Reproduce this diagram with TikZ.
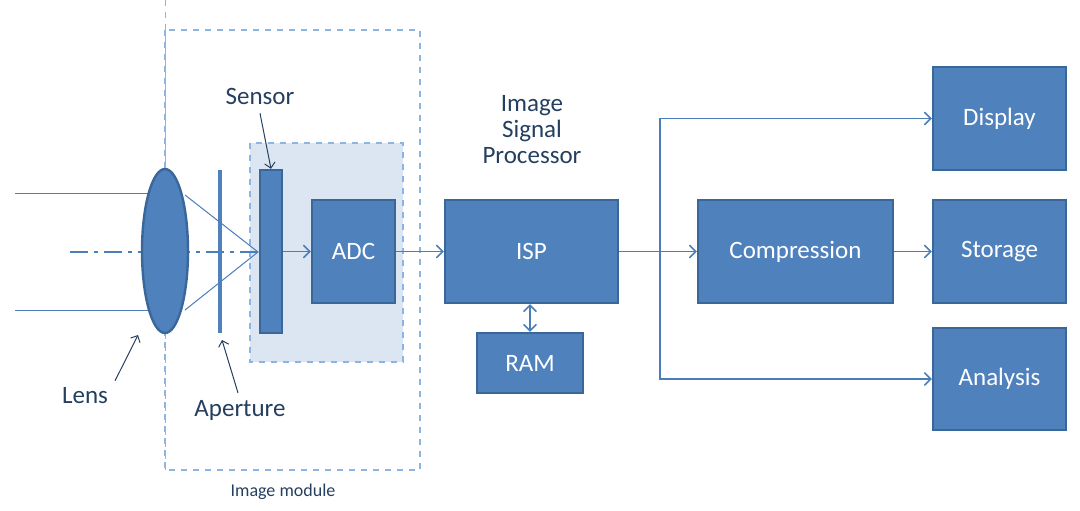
\documentclass[tikz,border=0pt]{standalone}
\usepackage{fontspec}
\setmainfont{Carlito}
\usetikzlibrary{arrows,shapes.geometric}
\definecolor{boxblue}{HTML}{4F81BD}
\definecolor{edgeblue}{HTML}{3A679A}
\definecolor{lineblue}{HTML}{4A7EBB}
\definecolor{paleblue}{HTML}{DCE6F2}
\definecolor{dashblue}{HTML}{8EB4E3}
\definecolor{txt}{HTML}{243F60}

\begin{document}
\begin{tikzpicture}[x=0.5pt,y=-0.5pt,>=angle 90,font=\fontsize{12.5}{14}\selectfont]
	\tikzstyle{bloc}=[draw=edgeblue,line width=1.2pt,fill=boxblue,text=white,inner sep=0pt,anchor=center]
	\tikzstyle{fil}=[draw=lineblue,line width=0.8pt]
	\tikzstyle{etiq}=[text=txt,anchor=center]
	\useasboundingbox (0,0) rectangle (1080,510);
	% boite du module
	\draw[dashblue,dashed,line width=0.7pt] (165,30) rectangle (420,470);
	\node[etiq,font=\fontsize{9}{10}\selectfont] (mod) at (283,492) {Image module};
	\draw[dashblue,dashed,line width=0.7pt,fill=paleblue] (250,143) rectangle (403,362);
	% optique
	\draw[lineblue,line width=0.5pt] (15,193) -- (150,193);
	\draw[lineblue,line width=0.5pt] (15,310) -- (150,310);
	\draw[lineblue,line width=0.5pt] (185,195) -- (258,252) -- (185,310);
	\draw[lineblue,line width=0.8pt,dash pattern=on 9pt off 3pt on 2pt off 3pt] (70,252) -- (258,252);
	\draw[dashblue,dashed,line width=0.5pt] (165,0) -- (165,170);
	\draw[dashblue,dashed,line width=0.5pt] (165,333) -- (165,470);
	\node[bloc,ellipse,minimum width=23pt,minimum height=82pt] (lens) at (165,251) {};
	\draw[boxblue,line width=1.8pt] (220,170) -- (220,333);
	\coordinate (ape) at (222,340);
	\node[bloc,minimum width=11pt,minimum height=81.5pt] (sensor) at (271,251.5) {};
	% blocs
	\node[bloc,minimum width=41.5pt,minimum height=51.5pt] (adc) at (353.5,251.5) {ADC};
	\node[bloc,minimum width=86.5pt,minimum height=51.5pt] (isp) at (531.5,251.5) {ISP};
	\node[bloc,minimum width=53pt,minimum height=30pt] (ram) at (530,363) {RAM};
	\node[bloc,minimum width=97.5pt,minimum height=51.5pt] (comp) at (795.5,251.5) {Compression};
	\node[bloc,minimum width=66.5pt,minimum height=51.5pt] (disp) at (999.5,118.5) {Display};
	\node[bloc,minimum width=66.5pt,minimum height=51.5pt] (stor) at (999.5,251.5) {Storage};
	\node[bloc,minimum width=66.5pt,minimum height=51pt] (anal) at (999.5,379) {Analysis};
	% fleches
	\draw[fil,->] (sensor) -- (adc);
	\draw[fil,->] (adc) -- (isp);
	\draw[fil,<->] (isp.south -| ram.north) -- (ram.north);
	\coordinate (br) at (660,251.5);
	\draw[fil] (isp) -- (br);
	\draw[fil,->] (br) -- (comp);
	\draw[fil,->] (br) |- (disp.west);
	\draw[fil,->] (br) |- (anal.west);
	\draw[fil,->] (comp) -- (stor);
	% etiquettes
	\node[etiq] (lsensor) at (260,96) {Sensor};
	\node[etiq] (llens) at (85,396) {Lens};
	\node[etiq] (lape) at (240,410) {Aperture};
	\node[etiq,align=center] (lisp) at (532,130) {Image\\[-1pt]Signal\\[-1pt]Processor};
	\draw[txt,line width=0.5pt,->] (lsensor.south) ++(0,2) -- (sensor.north);
	\draw[txt,line width=0.5pt,->] (llens.north east) -- (138,335);
	\draw[txt,line width=0.5pt,->] (lape.north) ++(-2,0) -- (ape);
\end{tikzpicture}
\end{document}
